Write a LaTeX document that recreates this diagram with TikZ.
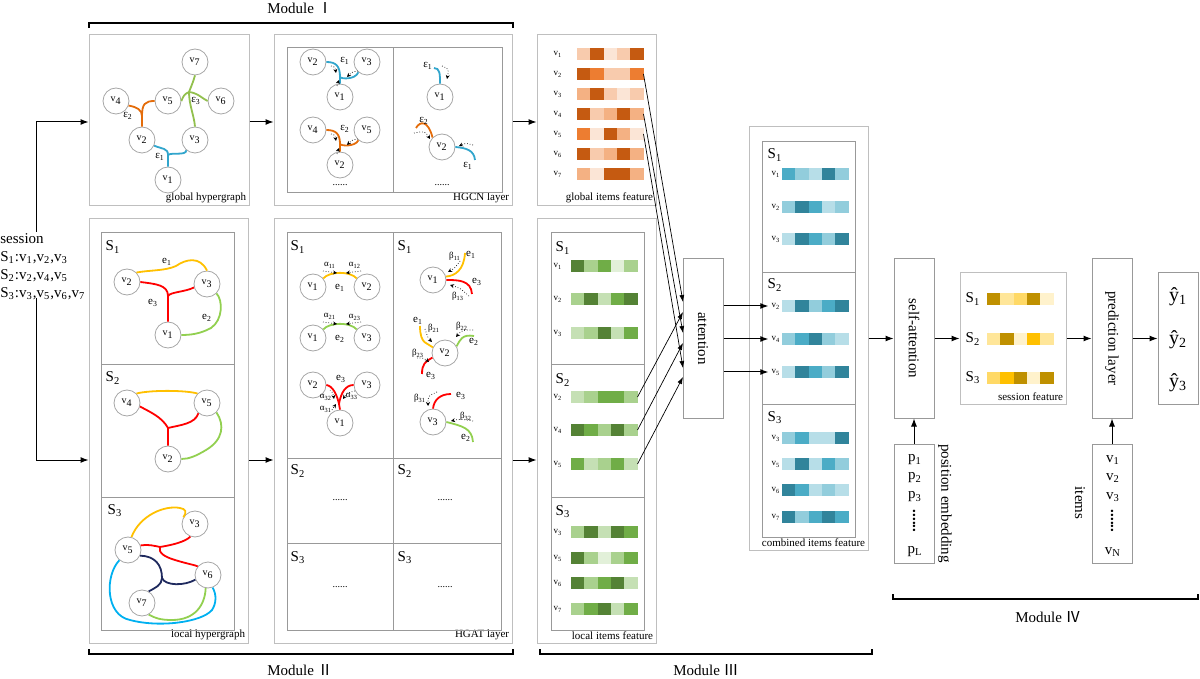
\documentclass[tikz,border=0pt]{standalone}
\usepackage{fontspec}
\setmainfont{Liberation Serif}
\newfontfamily\cjk{Noto Sans CJK SC}
\usepackage{graphicx}
\usetikzlibrary{arrows.meta}

% feature colours
\definecolor{oD}{HTML}{C55A11}
\definecolor{oB}{HTML}{ED7D31}
\definecolor{oM}{HTML}{F4B183}
\definecolor{oL}{HTML}{F8CBAD}
\definecolor{oV}{HTML}{FBE5D6}
\definecolor{gD}{HTML}{548235}
\definecolor{gM}{HTML}{70AD47}
\definecolor{gL}{HTML}{A9D18E}
\definecolor{gV}{HTML}{C5E0B4}
\definecolor{gW}{HTML}{E2F0D9}
\definecolor{bD}{HTML}{31849B}
\definecolor{bM}{HTML}{4BACC6}
\definecolor{bL}{HTML}{92CDDC}
\definecolor{bV}{HTML}{B7DEE8}
\definecolor{yD}{HTML}{BF9000}
\definecolor{yG}{HTML}{FFC000}
\definecolor{yL}{HTML}{FFD966}
\definecolor{yM}{HTML}{FFE699}
\definecolor{yV}{HTML}{FFF2CC}
% hyperedge colours
\definecolor{edgeO}{HTML}{E46C0A}
\definecolor{edgeB}{HTML}{31A5CC}
\definecolor{edgeG}{HTML}{92C04E}
\definecolor{edgeY}{HTML}{FFC000}
\definecolor{edgeR}{HTML}{FF0000}
\definecolor{edgeN}{HTML}{1F2A5E}
\definecolor{edgeC}{HTML}{00B0F0}
\definecolor{edgeL}{HTML}{92D050}

\newcommand{\vsub}[1]{v\textsubscript{#1}}
\newcommand{\ssub}[1]{S\textsubscript{#1}}
\newcommand{\esub}[1]{e\textsubscript{#1}}
% one feature bar: name of its right end, left x, middle y, five colours
\newcommand{\cellrow}[4]{%
  \foreach \col [count=\i from 0] in {#4}
    \fill[\col] ({#2+13.3*\i},{#3-6.25}) rectangle ++(13.3,12.5);
  \coordinate (#1) at ({#2+66.5},#3);}

\begin{document}
\begin{tikzpicture}[x=0.5pt, y=-0.5pt,
    vtx/.style={circle, draw=black!35, line width=0.4pt, minimum size=13pt, inner sep=0pt, font=\fontsize{5}{6}\selectfont},
    hedge/.style={line width=0.9pt},
    msg/.style={densely dotted, line width=0.35pt, -{Stealth[length=2pt,width=2pt]}},
    wt/.style={font=\fontsize{4.5}{5}\selectfont, inner sep=0pt},
    elab/.style={font=\fontsize{5.5}{6}\selectfont, inner sep=0pt},
    panel/.style={draw=black!25, line width=0.5pt, inner sep=0pt},
    cell/.style={draw=black!40, line width=0.5pt},
    blk/.style={draw=black!40, line width=0.5pt, inner sep=0pt, font=\fontsize{7.5}{9}\selectfont},
    boxcap/.style={font=\fontsize{5.5}{6}\selectfont, anchor=south east, inner sep=1.5pt},
    slab/.style={font=\fontsize{7.5}{9}\selectfont, inner sep=0pt},
    rowlab/.style={font=\fontsize{4.5}{5}\selectfont, inner sep=0pt},
    morelab/.style={font=\fontsize{5}{6}\selectfont, inner sep=0pt},
    bigtxt/.style={font=\fontsize{7.5}{9}\selectfont, inner sep=0pt},
    arr/.style={line width=0.5pt, -{Latex[length=4pt,width=3pt]}},
    thin arr/.style={line width=0.35pt, -{Latex[length=3.5pt,width=2.5pt]}},
    brace/.style={line width=1.1pt},
    modlab/.style={font=\fontsize{7.5}{9}\selectfont}
  ]
\useasboundingbox (0,0) rectangle (1200,679);

% module brackets
\node[modlab] (m1) at (300,8) {Module {\cjk Ⅰ}};
\draw[brace] (89,28) -- (89,23) -- (513,23) -- (513,28);
\draw[brace] (89,649) -- (89,654) -- (513,654) -- (513,649);
\node[modlab] (m2) at (300,670) {Module {\cjk Ⅱ}};
\draw[brace] (540,649) -- (540,654) -- (872,654) -- (872,649);
\node[modlab] (m3) at (706,670) {Module {\cjk Ⅲ}};
\draw[brace] (893,594) -- (893,599) -- (1198,599) -- (1198,594);
\node[modlab] (m4) at (1048,617) {Module {\cjk Ⅳ}};

% session input
\node[anchor=north west, align=left, inner sep=0pt, font=\fontsize{7.5}{9}\selectfont] (sess) at (0,233)
  {session\\\ssub{1}:\vsub{1},\vsub{2},\vsub{3}\\\ssub{2}:\vsub{2},\vsub{4},\vsub{5}\\\ssub{3}:\vsub{3},\vsub{5},\vsub{6},\vsub{7}};
\coordinate (fork1) at (36,122);
\coordinate (fork2) at (36,460);
\coordinate (stop) at (36,232);
\coordinate (sbot) at (36,298);

% ---------------- Module I ----------------
\node[panel, minimum width=80pt, minimum height=85.5pt] (ghg) at (169,120.5) {};
\node[boxcap] (ghgcap) at (ghg.south east) {global hypergraph};
\node[vtx] (g7) at (195,62) {\vsub{7}};
\node[vtx] (g4) at (116,101) {\vsub{4}};
\node[vtx] (g5) at (168,101) {\vsub{5}};
\node[vtx] (g6) at (221,101) {\vsub{6}};
\node[vtx] (g2) at (142,140) {\vsub{2}};
\node[vtx] (g3) at (195,140) {\vsub{3}};
\node[vtx] (g1) at (168,180) {\vsub{1}};
% eps 2
\coordinate (gj2) at (142,116);
\draw[hedge, edgeO] (g4.-20) .. controls (137,107) and (142,110) .. (gj2) -- (g2.north);
\draw[hedge, edgeO] (gj2) .. controls (142,104) and (145,101) .. (g5.west);
\node[elab] (ge2) at (128,116) {ε\textsubscript{2}};
% eps 1
\coordinate (gj1) at (168,155);
\draw[hedge, edgeB] (g2.-25) .. controls (162,149) and (168,148) .. (gj1) -- (g1.north);
\draw[hedge, edgeB] (gj1) .. controls (172,152) and (186,156) .. (g3.230);
\node[elab] (ge1) at (160,157) {ε\textsubscript{1}};
% eps 3
\coordinate (gj3) at (189,92);
\draw[hedge, edgeG] (g7.south) .. controls (193,82) .. (gj3);
\draw[hedge, edgeG] (gj3) .. controls (184,94) and (183,97) .. (g5.east);
\draw[hedge, edgeG] (gj3) .. controls (198,93) and (203,99) .. (g6.west);
\draw[hedge, edgeG] (gj3) .. controls (189,105) and (194,115) .. (g3.north);
\node[elab] (ge3) at (196,101) {ε\textsubscript{3}};

\node[panel, minimum width=119pt, minimum height=85.5pt] (hgcn) at (393,120.5) {};
\node[boxcap] (hgcncap) at (hgcn.south east) {HGCN layer};
\draw[cell] (287,48) rectangle (502,193);
\draw[cell] (393,48) -- (393,193);
% left half
\node[vtx] (c2) at (313,62) {\vsub{2}};
\node[vtx] (c3) at (367,62) {\vsub{3}};
\node[vtx] (c1) at (340,97) {\vsub{1}};
\coordinate (cj1) at (340,77);
\draw[hedge, edgeB] (c2.east) .. controls (336,62) and (340,66) .. (cj1) -- (c1.north);
\draw[hedge, edgeB] (cj1) .. controls (341,79) and (355,80) .. (c3.-130);
\node[elab] (ce1) at (345,61) {ε\textsubscript{1}};
\draw[msg] (331,66) .. controls (335,67) .. (336,73);
\draw[msg] (358,71) .. controls (352,72) .. (347,77);
\draw[msg] (337,86) -- (339,80);
\node[vtx] (c4) at (313,130) {\vsub{4}};
\node[vtx] (c5) at (367,130) {\vsub{5}};
\node[vtx] (c2b) at (340,165) {\vsub{2}};
\coordinate (cj2) at (340,144);
\draw[hedge, edgeO] (c4.east) .. controls (336,130) and (340,134) .. (cj2) -- (c2b.north);
\draw[hedge, edgeO] (cj2) .. controls (341,146) and (355,147) .. (c5.-130);
\node[elab] (ce2) at (345,129) {ε\textsubscript{2}};
\draw[msg] (331,134) .. controls (335,135) .. (336,141);
\draw[msg] (358,139) .. controls (352,140) .. (347,145);
\draw[msg] (337,154) -- (339,148);
\node[morelab] (cdots1) at (340,185) {......};
% right half
\node[vtx] (c1r) at (440,97) {\vsub{1}};
\coordinate (ce1r) at (434,68);
\draw[hedge, edgeB] (ce1r) .. controls (440,68) and (440,74) .. (c1r.north);
\node[elab] (ce1rl) at (428,66) {ε\textsubscript{1}};
\draw[msg] (442,66) .. controls (449,69) .. (447,79);
\node[vtx] (c2r) at (442,147) {\vsub{2}};
\coordinate (ce2r) at (416,128);
\draw[hedge, edgeO] (ce2r) .. controls (420,121) and (428,120) .. (c2r.135);
\node[elab] (ce2rl) at (424,121) {ε\textsubscript{2}};
\draw[msg] (414,133) .. controls (425,131) .. (430,139);
\coordinate (ce1b) at (475,160);
\draw[hedge, edgeB] (c2r.east) .. controls (466,148) and (474,150) .. (ce1b);
\node[elab] (ce1bl) at (468,166) {ε\textsubscript{1}};
\draw[msg] (473,145) .. controls (466,143) .. (459,146);
\node[morelab] (cdots2) at (442,185) {......};

\node[panel, minimum width=59.5pt, minimum height=85.5pt] (gfeat) at (596.5,120.5) {};
\node[boxcap] (gfeatcap) at (gfeat.south east) {global items feature};
\node[rowlab] (gl1) at (558,54) {\vsub{1}}; \cellrow{gr1}{577}{54}{oL,oD,oV,oL,oD}
\node[rowlab] (gl2) at (558,74) {\vsub{2}}; \cellrow{gr2}{577}{74}{oD,oB,oL,oL,oB}
\node[rowlab] (gl3) at (558,94) {\vsub{3}}; \cellrow{gr3}{577}{94}{oM,oD,oL,oV,oL}
\node[rowlab] (gl4) at (558,114) {\vsub{4}}; \cellrow{gr4}{577}{114}{oD,oL,oM,oD,oM}
\node[rowlab] (gl5) at (558,134) {\vsub{5}}; \cellrow{gr5}{577}{134}{oB,oV,oD,oM,oV}
\node[rowlab] (gl6) at (558,154) {\vsub{6}}; \cellrow{gr6}{577}{154}{oD,oL,oM,oD,oM}
\node[rowlab] (gl7) at (558,174) {\vsub{7}}; \cellrow{gr7}{577}{174}{oM,oV,oD,oD,oM}

% ---------------- Module II ----------------
\node[panel, minimum width=79.5pt, minimum height=212pt] (lhg) at (168.5,431) {};
\node[boxcap] (lhgcap) at (lhg.south east) {local hypergraph};
\draw[cell] (101,233) rectangle (234,630);
\draw[cell] (101,365) -- (234,365);
\draw[cell] (101,497) -- (234,497);
% S1
\node[slab] (ls1) at (113,247) {\ssub{1}};
\node[vtx] (s1v2) at (127,282) {\vsub{2}};
\node[vtx] (s1v3) at (207,284) {\vsub{3}};
\node[vtx] (s1v1) at (168,335) {\vsub{1}};
\draw[hedge, edgeY] (s1v2.45) .. controls (150,270) and (165,271) .. (176,266) .. controls (186,259) and (200,256) .. (s1v3.north);
\node[elab] (l1e1) at (167,262) {\esub{1}};
\coordinate (s1j) at (168,296);
\draw[hedge, edgeR] (s1v2.east) .. controls (156,284) and (168,285) .. (s1j) -- (s1v1.north);
\draw[hedge, edgeR] (s1j) .. controls (170,292) and (185,292) .. (s1v3.-165);
\node[elab] (l1e3) at (153,303) {\esub{3}};
\draw[hedge, edgeL] (s1v3.-45) .. controls (223,300) and (223,320) .. (211,328) .. controls (200,334) and (190,335) .. (s1v1.east);
\node[elab] (l1e2) at (207,318) {\esub{2}};
% S2
\node[slab] (ls2) at (113,378) {\ssub{2}};
\node[vtx] (s2v4) at (127,403) {\vsub{4}};
\node[vtx] (s2v5) at (207,403) {\vsub{5}};
\node[vtx] (s2v2) at (168,459) {\vsub{2}};
\draw[hedge, edgeY] (s2v4.45) .. controls (150,390) and (185,390) .. (s2v5.135);
\coordinate (s2j) at (168,428);
\draw[hedge, edgeR] (s2v4.-15) .. controls (150,412) and (162,417) .. (s2j) -- (s2v2.north);
\draw[hedge, edgeR] (s2j) .. controls (180,425) and (195,424) .. (s2v5.-130);
\draw[hedge, edgeL] (s2v5.-45) .. controls (225,425) and (223,440) .. (206,450) .. controls (196,456) and (189,459) .. (s2v2.east);
% S3
\node[slab] (ls3) at (115,511) {\ssub{3}};
\node[vtx] (s3v3) at (195,524) {\vsub{3}};
\node[vtx] (s3v5) at (128,550) {\vsub{5}};
\node[vtx] (s3v6) at (208,575) {\vsub{6}};
\node[vtx] (s3v7) at (142,603) {\vsub{7}};
\draw[hedge, edgeY] (s3v5.75) .. controls (140,515) and (165,505) .. (180,508) .. controls (186,509) and (187,512) .. (s3v3.150);
\coordinate (s3j) at (160,547);
\draw[hedge, edgeR] (s3v5.20) .. controls (148,544) and (155,546) .. (s3j) .. controls (172,545) and (185,542) .. (s3v3.-110);
\draw[hedge, edgeR] (s3j) .. controls (158,553) and (165,557) .. (175,560) .. controls (188,564) and (195,565) .. (s3v6.140);
\coordinate (s3k) at (162,578);
\draw[hedge, edgeN] (s3v5.-25) .. controls (155,556) and (162,565) .. (s3k) .. controls (165,586) and (185,586) .. (s3v6.-160);
\draw[hedge, edgeN] (s3k) .. controls (162,585) and (155,588) .. (s3v7.60);
\draw[hedge, edgeC] (s3v5.-130) .. controls (105,575) and (105,615) .. (130,620) .. controls (160,628) and (202,622) .. (212,610) .. controls (216,604) and (217,595) .. (s3v6.-70);
\draw[hedge, edgeL] (s3v7.-60) .. controls (155,618) and (160,620) .. (172,620) .. controls (195,620) and (205,605) .. (s3v6.-100);

\node[panel, minimum width=119pt, minimum height=212pt] (hgat) at (393,431) {};
\node[boxcap] (hgatcap) at (hgat.south east) {HGAT layer};
\draw[cell] (287,233) rectangle (501,630);
\draw[cell] (393,233) -- (393,630);
\draw[cell] (287,458) -- (501,458);
\draw[cell] (287,543) -- (501,543);
% node-level attention
\node[slab] (hs1a) at (298,247) {\ssub{1}};
\node[vtx] (a11) at (313,287) {\vsub{1}};
\node[vtx] (a12) at (367,287) {\vsub{2}};
\draw[hedge, edgeY] (a11.40) .. controls (330,271) and (350,271) .. (a12.140);
\node[elab] (ae1) at (340,288) {\esub{1}};
\node[wt] (w11) at (330,265) {α\textsubscript{11}};
\node[wt] (w12) at (355,265) {α\textsubscript{12}};
\draw[msg] (323,271) -- (337,273);
\draw[msg] (361,271) -- (346,273);
\node[vtx] (a21) at (313,338) {\vsub{1}};
\node[vtx] (a23) at (367,338) {\vsub{3}};
\draw[hedge, edgeL] (a21.40) .. controls (330,322) and (350,322) .. (a23.140);
\node[elab] (ae2) at (340,339) {\esub{2}};
\node[wt] (w21) at (330,316) {α\textsubscript{21}};
\node[wt] (w23) at (355,317) {α\textsubscript{23}};
\draw[msg] (323,322) -- (337,324);
\draw[msg] (361,322) -- (346,324);
\node[vtx] (a32) at (313,385) {\vsub{2}};
\node[vtx] (a33) at (367,385) {\vsub{3}};
\node[vtx] (a31) at (340,423) {\vsub{1}};
\coordinate (aj3) at (339,404);
\draw[hedge, edgeR] (a32.east) .. controls (333,386) and (337,395) .. (aj3) -- (a31.north);
\draw[hedge, edgeR] (a33.west) .. controls (346,385) and (341,392) .. (aj3);
\node[elab] (ae3) at (341,379) {\esub{3}};
\node[wt] (w32) at (326,397) {α\textsubscript{32}};
\node[wt] (w33) at (352,396) {α\textsubscript{33}};
\node[wt] (w31) at (326,409) {α\textsubscript{31}};
\draw[msg] (330,390) .. controls (333,393) .. (334,399);
\draw[msg] (355,391) .. controls (347,393) .. (343,399);
\draw[msg] (332,410) -- (336,404);
% edge-level attention
\node[slab] (hs1b) at (405,247) {\ssub{1}};
\node[vtx] (b1) at (433,280) {\vsub{1}};
\coordinate (b1e1) at (465,253);
\draw[hedge, edgeY] (b1.15) .. controls (455,276) and (464,270) .. (b1e1);
\node[elab] (b1l1) at (471,255) {\esub{1}};
\coordinate (b1e3) at (472,294);
\draw[hedge, edgeR] (b1.east) .. controls (458,280) and (471,280) .. (b1e3);
\node[elab] (b1l3) at (477,282) {\esub{3}};
\node[wt] (u11) at (455,256) {β\textsubscript{11}};
\node[wt] (u13) at (458,296) {β\textsubscript{13}};
\draw[msg] (460,261) .. controls (455,268) .. (448,272);
\draw[msg] (469,296) .. controls (460,288) .. (450,285);
\node[vtx] (b2) at (445,353) {\vsub{2}};
\coordinate (b2e1) at (420,326);
\draw[hedge, edgeY] (b2e1) .. controls (420,345) and (428,343) .. (b2.155);
\node[elab] (b2l1) at (418,321) {\esub{1}};
\coordinate (b2e2) at (474,336);
\draw[hedge, edgeL] (b2.30) .. controls (460,340) and (462,334) .. (b2e2);
\node[elab] (b2l2) at (474,342) {\esub{2}};
\coordinate (b2e3) at (422,374);
\draw[hedge, edgeR] (b2.200) .. controls (425,362) and (422,364) .. (b2e3);
\node[elab] (b2l3) at (431,376) {\esub{3}};
\node[wt] (u21) at (434,328) {β\textsubscript{21}};
\node[wt] (u22) at (462,326) {β\textsubscript{22}};
\node[wt] (u23) at (418,353) {β\textsubscript{23}};
\draw[msg] (425,329) .. controls (428,338) .. (432,342);
\draw[msg] (473,330) .. controls (462,330) .. (456,337);
\draw[msg] (417,358) .. controls (424,358) .. (429,362);
\node[vtx] (b3) at (433,422) {\vsub{3}};
\coordinate (b3e3) at (451,394);
\draw[hedge, edgeR] (b3.north) .. controls (434,400) and (440,394) .. (b3e3);
\node[elab] (b3l3) at (461,396) {\esub{3}};
\coordinate (b3e2) at (473,442);
\draw[hedge, edgeL] (b3.east) .. controls (462,426) and (472,428) .. (b3e2);
\node[elab] (b3l2) at (466,438) {\esub{2}};
\node[wt] (u31) at (420,398) {β\textsubscript{31}};
\node[wt] (u32) at (466,416) {β\textsubscript{32}};
\draw[msg] (437,392) .. controls (428,396) .. (428,406);
\draw[msg] (473,421) .. controls (460,419) .. (451,421);
% other sessions
\node[slab] (hs2a) at (298,471) {\ssub{2}};
\node[slab] (hs2b) at (405,471) {\ssub{2}};
\node[morelab] (hd2a) at (340,500) {......};
\node[morelab] (hd2b) at (445,500) {......};
\node[slab] (hs3a) at (298,558) {\ssub{3}};
\node[slab] (hs3b) at (405,558) {\ssub{3}};
\node[morelab] (hd3a) at (340,587) {......};
\node[morelab] (hd3b) at (445,587) {......};

% ---------------- Module III ----------------
\node[panel, minimum width=59.5pt, minimum height=212pt] (lfeat) at (596.5,431) {};
\node[boxcap] (lfeatcap) at (lfeat.south east) {local items feature};
\draw[cell] (551,233) rectangle (644,630);
\draw[cell] (551,365) -- (644,365);
\draw[cell] (551,497) -- (644,497);
\node[slab] (lf1) at (563,248) {\ssub{1}};
\node[rowlab] (ll11) at (558,266) {\vsub{1}}; \cellrow{lr11}{571}{266}{gD,gL,gM,gW,gL}
\node[rowlab] (ll12) at (558,299) {\vsub{2}}; \cellrow{lr12}{571}{299}{gL,gD,gV,gM,gD}
\node[rowlab] (ll13) at (558,333) {\vsub{3}}; \cellrow{lr13}{571}{333}{gV,gL,gD,gV,gM}
\node[slab] (lf2) at (563,380) {\ssub{2}};
\node[rowlab] (ll22) at (558,397) {\vsub{2}}; \cellrow{lr22}{571}{397}{gV,gL,gM,gM,gL}
\node[rowlab] (ll24) at (558,430) {\vsub{4}}; \cellrow{lr24}{571}{430}{gD,gM,gL,gD,gL}
\node[rowlab] (ll25) at (558,464) {\vsub{5}}; \cellrow{lr25}{571}{464}{gM,gV,gL,gM,gV}
\node[slab] (lf3) at (563,512) {\ssub{3}};
\node[rowlab] (ll33) at (558,532) {\vsub{3}}; \cellrow{lr33}{571}{532}{gL,gD,gV,gD,gM}
\node[rowlab] (ll35) at (558,558) {\vsub{5}}; \cellrow{lr35}{571}{558}{gD,gL,gW,gL,gM}
\node[rowlab] (ll36) at (558,583) {\vsub{6}}; \cellrow{lr36}{571}{583}{gD,gL,gM,gD,gV}
\node[rowlab] (ll37) at (558,609) {\vsub{7}}; \cellrow{lr37}{571}{609}{gL,gM,gD,gV,gM}

\node[blk, minimum width=20pt, minimum height=79.5pt] (att) at (703,338.5) {\rotatebox{-90}{attention}};
\coordinate (ain1) at (683,302);
\coordinate (ain2) at (683,312);
\coordinate (ain3) at (683,333);
\coordinate (ain4) at (683,343);
\coordinate (ain5) at (683,368);
\coordinate (ain6) at (683,377);
\draw[thin arr] (gr2) -- (ain1);
\draw[thin arr] (lr22) -- (ain2);
\draw[thin arr] (gr4) -- (ain3);
\draw[thin arr] (lr24) -- (ain4);
\draw[thin arr] (gr5) -- (ain5);
\draw[thin arr] (lr25) -- (ain6);

\node[panel, minimum width=59.5pt, minimum height=211.5pt] (comb) at (808.5,338.5) {};
\node[boxcap] (combcap) at (comb.south east) {combined items feature};
\draw[cell] (762,142) rectangle (855,537);
\draw[cell] (762,273) -- (855,273);
\draw[cell] (762,404) -- (855,404);
\node[slab] (cf1) at (775,155) {\ssub{1}};
\node[rowlab] (cl11) at (776,174) {\vsub{1}}; \cellrow{cr11}{782}{174}{bM,bL,bV,bD,bL}
\node[rowlab] (cl12) at (776,207) {\vsub{2}}; \cellrow{cr12}{782}{207}{bL,bD,bM,bV,bL}
\node[rowlab] (cl13) at (776,239) {\vsub{3}}; \cellrow{cr13}{782}{239}{bV,bD,bM,bL,bD}
\node[slab] (cf2) at (775,285) {\ssub{2}};
\node[rowlab, inner sep=1.5pt] (cl22) at (776,306) {\vsub{2}}; \cellrow{cr22}{782}{306}{bV,bD,bL,bM,bD}
\node[rowlab, inner sep=1.5pt] (cl24) at (776,339) {\vsub{4}}; \cellrow{cr24}{782}{339}{bL,bM,bD,bL,bV}
\node[rowlab, inner sep=1.5pt] (cl25) at (776,372) {\vsub{5}}; \cellrow{cr25}{782}{372}{bV,bD,bM,bL,bD}
\node[slab] (cf3) at (775,418) {\ssub{3}};
\node[rowlab] (cl33) at (776,438) {\vsub{3}}; \cellrow{cr33}{782}{438}{bL,bM,bV,bV,bD}
\node[rowlab] (cl35) at (776,464) {\vsub{5}}; \cellrow{cr35}{782}{464}{bV,bD,bV,bM,bL}
\node[rowlab] (cl36) at (776,490) {\vsub{6}}; \cellrow{cr36}{782}{490}{bD,bM,bV,bL,bV}
\node[rowlab] (cl37) at (776,517) {\vsub{7}}; \cellrow{cr37}{782}{517}{bD,bL,bM,bD,bM}
\draw[arr] (att.east |- cl22) -- (cl22.west);
\draw[arr] (att.east |- cl24) -- (cl24.west);
\draw[arr] (att.east |- cl25) -- (cl25.west);

% ---------------- Module IV ----------------
\node[blk, minimum width=20pt, minimum height=79.5pt] (satt) at (914,338.5) {\rotatebox{-90}{self-attention}};
\node[blk, minimum width=20pt, minimum height=59.5pt] (pos) at (914,503.5) {};
\node[bigtxt] (p1) at (915,460) {p\textsubscript{1}};
\node[bigtxt] (p2) at (915,478) {p\textsubscript{2}};
\node[bigtxt] (p3) at (915,497) {p\textsubscript{3}};
\node[bigtxt] (pdots) at (914,521) {\rotatebox{-90}{\textbf{......}}};
\node[bigtxt] (pL) at (915,552) {p\textsubscript{L}};
\node[bigtxt] (posl) at (945,503.5) {\rotatebox{-90}{position embedding}};

\node[panel, minimum width=53pt, minimum height=65.5pt] (sfeat) at (1013,338.5) {};
\node[boxcap] (sfeatcap) at (sfeat.south east) {session feature};
\node[slab] (sf1) at (973,299) {\ssub{1}}; \cellrow{sr1}{987}{299}{yD,yM,yL,yD,yV}
\node[slab] (sf2) at (973,339) {\ssub{2}}; \cellrow{sr2}{987}{339}{yM,yD,yV,yG,yM}
\node[slab] (sf3) at (973,378) {\ssub{3}}; \cellrow{sr3}{987}{378}{yL,yG,yD,yV,yD}

\node[blk, minimum width=20pt, minimum height=79.5pt] (pred) at (1112,338.5) {\rotatebox{-90}{prediction layer}};
\node[blk, minimum width=20pt, minimum height=59.5pt] (itm) at (1112,503.5) {};
\node[bigtxt] (i1) at (1113,460) {\vsub{1}};
\node[bigtxt] (i2) at (1113,478) {\vsub{2}};
\node[bigtxt] (i3) at (1113,497) {\vsub{3}};
\node[bigtxt] (idots) at (1112,521) {\rotatebox{-90}{\textbf{......}}};
\node[bigtxt] (iN) at (1113,552) {\vsub{N}};
\node[bigtxt] (itml) at (1080,503) {\rotatebox{-90}{items}};

\node[blk, minimum width=20pt, minimum height=65.5pt] (yhat) at (1178,338.5) {};
\node[inner sep=0pt, font=\fontsize{10}{12}\selectfont] (y1) at (1178,297) {ŷ\textsubscript{1}};
\node[inner sep=0pt, font=\fontsize{10}{12}\selectfont] (y2) at (1178,340) {ŷ\textsubscript{2}};
\node[inner sep=0pt, font=\fontsize{10}{12}\selectfont] (y3) at (1178,383) {ŷ\textsubscript{3}};

% main flow
\draw[arr] (stop) -- (fork1) -- (fork1 -| ghg.west);
\draw[arr] (sbot) -- (fork2) -- (fork2 -| lhg.west);
\draw[arr] (fork1 -| ghg.east) -- (fork1 -| hgcn.west);
\draw[arr] (fork1 -| hgcn.east) -- (fork1 -| gfeat.west);
\draw[arr] (fork2 -| lhg.east) -- (fork2 -| hgat.west);
\draw[arr] (fork2 -| hgat.east) -- (fork2 -| lfeat.west);
\draw[arr] (comb.east) -- (satt.west);
\draw[arr] (satt.east) -- (sfeat.west);
\draw[arr] (sfeat.east) -- (pred.west);
\draw[arr] (pred.east) -- (yhat.west);
\draw[arr] (pos.north) -- (satt.south);
\draw[arr] (itm.north) -- (pred.south);
\end{tikzpicture}
\end{document}
